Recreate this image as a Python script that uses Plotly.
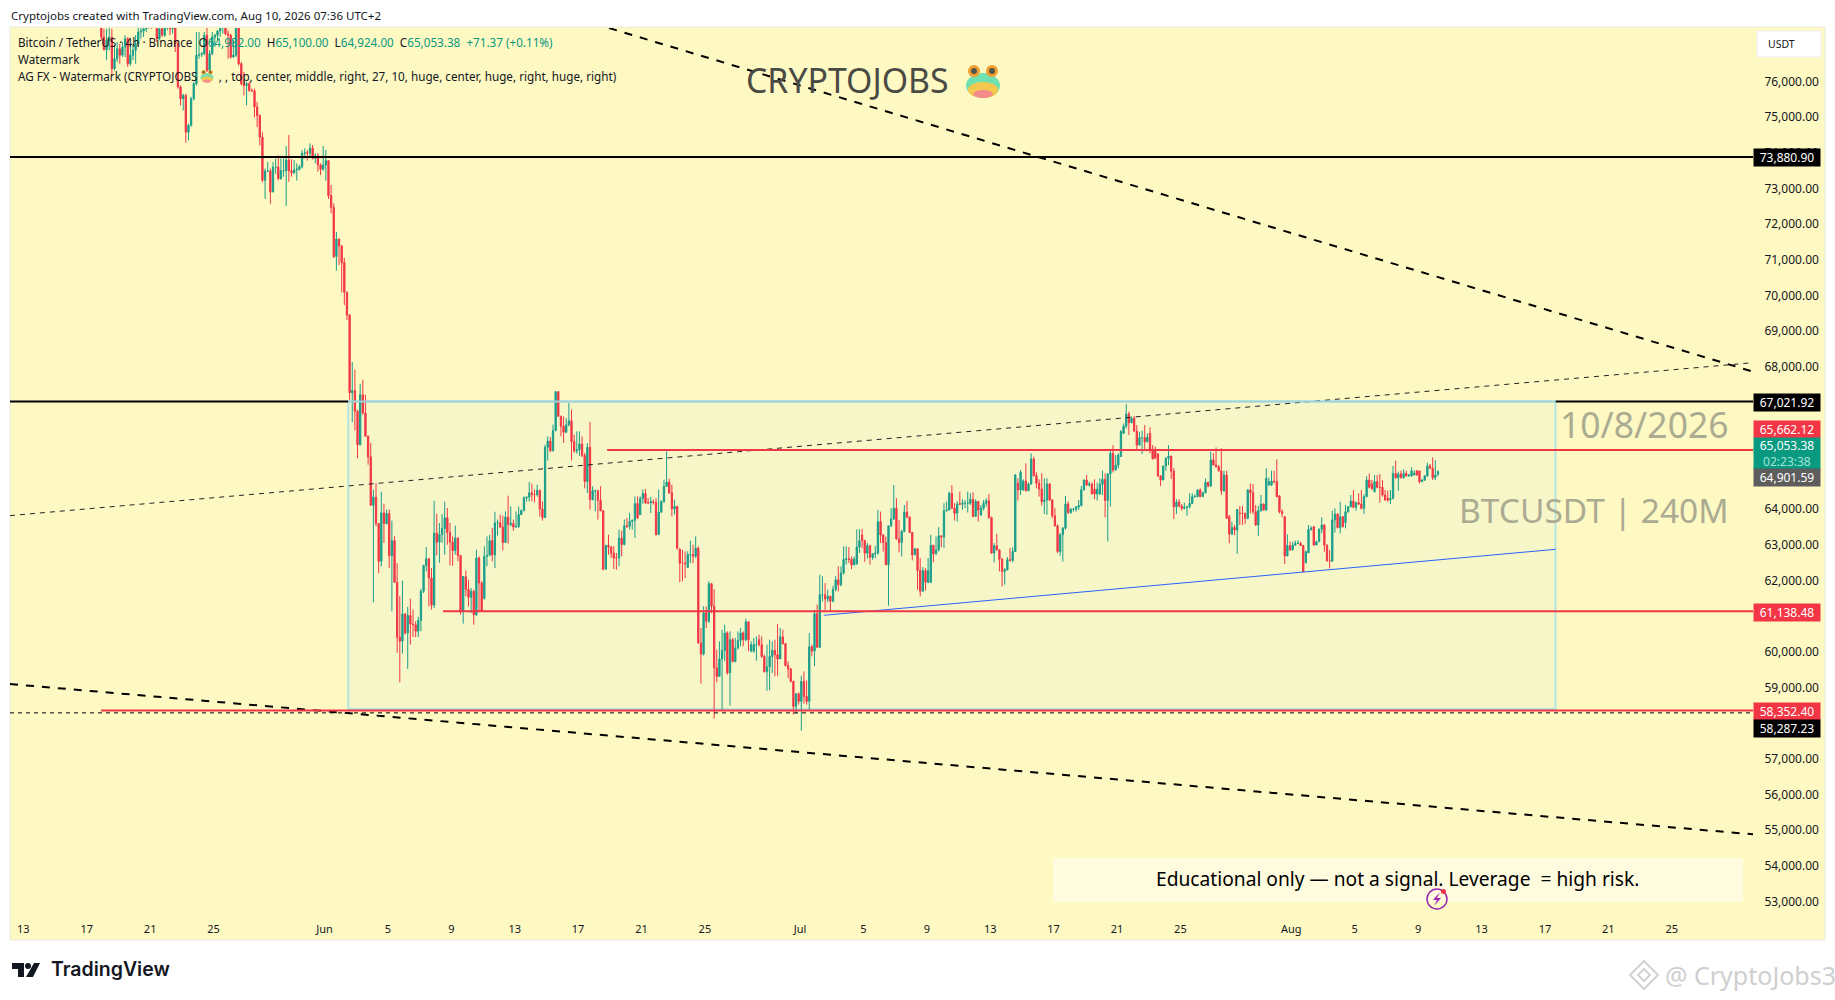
#!/usr/bin/env python3
"""BTCUSDT 4h chart with range box and trend lines, TradingView style."""

import pandas as pd
import plotly.graph_objects as go

# 4h candles, last bar is Aug 10 06:00
last_bar = "2026-08-10 06:00"

opens = [
    77530, 77250, 76890, 77160, 77250, 76360, 76640, 76920, 76740, 76970,
    77200, 76500, 76740, 76880, 77060, 77390, 77420, 77480, 77620, 77720,
    77580, 77760, 77200, 77480, 77300, 77620, 77720, 77480, 77580, 77060,
    75850, 75520, 75610, 74580, 74770, 75520, 75940, 76740, 76760, 76780,
    77300, 76310, 76780, 77250, 77300, 77420, 77530, 77580, 77340, 77300,
    76690, 76740, 77530, 76500, 75940, 75890, 75940, 75750, 75740, 75290,
    75050, 74440, 73230, 73490, 73490, 72900, 73600, 73600, 73280, 73500,
    73500, 73800, 73500, 73440, 73520, 73540, 73610, 73990, 74000, 73990,
    74130, 73850, 73910, 73660, 73540, 73660, 73780, 72800, 72470, 71090,
    71580, 71390, 70920, 70090, 69450, 67270, 67330, 66750, 65810, 67210,
    66700, 66050, 65470, 64110, 64340, 63600, 62540, 63900, 63600, 63880,
    62700, 63120, 61950, 60410, 60300, 61060, 60530, 61020, 60780, 60760,
    60580, 60880, 61700, 62420, 62610, 62070, 61310, 63330, 63080, 63290,
    63460, 63760, 63350, 63080, 62840, 63190, 62700, 61140, 62110, 61750,
    61530, 61700, 61040, 62630, 61930, 61500, 62680, 62710, 63120, 62720,
    63620, 63620, 63500, 63070, 63780, 63570, 63600, 63500, 63520, 63850,
    63970, 64320, 64340, 64460, 64410, 64410, 64530, 64010, 63770, 65740,
    65910, 65640, 66210, 67300, 66610, 66330, 66160, 66370, 66480, 65900,
    65640, 65670, 65830, 65510, 64780, 65740, 64270, 64520, 64520, 64250,
    63960, 62320, 62980, 62940, 62770, 62630, 62630, 63190, 63010, 63540,
    63520, 63660, 63690, 64160, 63850, 64300, 64440, 64180, 64180, 64210,
    64190, 63290, 63920, 64220, 64640, 64760, 64460, 64010, 64080, 62870,
    62490, 62490, 62370, 62730, 62730, 62680, 62910, 60250, 59940, 61090,
    60860, 61910, 61280, 59550, 59310, 59800, 60040, 60530, 59410, 60340,
    59730, 60110, 60320, 60530, 60340, 60840, 60020, 60020, 60200, 60340,
    60200, 59870, 59440, 59580, 59870, 60040, 59920, 59800, 60420, 60230,
    59610, 59520, 59170, 58470, 58820, 58610, 59170, 58750, 58610, 60140,
    60020, 61070, 60130, 61600, 61600, 61480, 61560, 61420, 61750, 62020,
    61880, 62210, 62590, 62610, 62600, 62440, 62470, 62940, 63280, 63120,
    62770, 62975, 62650, 62750, 62770, 63650, 63280, 63070, 62440, 63535,
    63730, 64030, 63170, 63070, 63380, 63920, 63780, 63350, 62720, 62890,
    62285, 61700, 62275, 61950, 61950, 62990, 62750, 62860, 63255, 63220,
    63960, 63980, 64450, 64030, 63890, 64150, 64140, 64170, 64170, 64170,
    64280, 63800, 64220, 63840, 64030, 64170, 64235, 63770, 62770, 62975,
    62860, 62600, 62255, 62300, 62585, 62565, 62815, 64730, 64540, 64540,
    64795, 64520, 64710, 65410, 64945, 64730, 64570, 64215, 64260, 64710,
    64260, 63815, 63535, 62815, 63285, 63470, 64150, 63910, 64000, 64000,
    64060, 64105, 64545, 64820, 64680, 64710, 64560, 64430, 64430, 64700,
    64840, 64245, 64990, 65570, 65100, 65240, 65480, 66130, 66335, 66670,
    66430, 66550, 66195, 65800, 66010, 66010, 65895, 66130, 65660, 65660,
    65550, 64930, 64820, 65215, 65430, 65495, 65070, 64070, 64200, 64090,
    64025, 64055, 64070, 64165, 64355, 64355, 64540, 64355, 64465, 64755,
    64650, 65380, 65240, 65195, 65080, 64520, 64960, 63790, 63305, 63490,
    63420, 63885, 63885, 63885, 63745, 64540, 64465, 63930, 63560, 63960,
    64145, 63980, 64680, 64680, 64790, 64775, 64375, 63930, 63790, 62690,
    62980, 62855, 62995, 63045, 63045, 62980, 62500, 62780, 63435, 63510,
    62995, 63090, 63435, 63560, 62995, 62555, 62545, 63700, 63865, 63485,
    63790, 63625, 63930, 64070, 64230, 64055, 64185, 64145, 64025, 64355,
    64820, 64710, 64490, 64775, 64615, 64615, 64400, 64305, 64260, 64305,
    65005, 64885, 64990, 64885, 65005, 64935, 64935, 64960, 65075, 65075,
    64775, 64820, 64935, 65215, 65150, 64885, 64982,
]
highs = [
    77720, 77480, 77480, 77530, 77480, 77020, 77110, 77060, 77110, 77300,
    77250, 77060, 77060, 77300, 77620, 77620, 77670, 77720, 77810, 77900,
    77900, 77900, 77620, 77530, 77720, 77810, 77810, 77620, 77620, 77160,
    75890, 75660, 75660, 74820, 75570, 75990, 77390, 77390, 76830, 77390,
    77530, 76880, 77390, 77340, 77440, 77620, 77670, 77620, 77440, 77340,
    77160, 77670, 77580, 76550, 76270, 75990, 75990, 75800, 75800, 75430,
    75080, 74580, 73560, 73740, 73560, 73740, 73840, 73930, 73845, 73845,
    74190, 74500, 73820, 73800, 73705, 73660, 74080, 74125, 74080, 74265,
    74220, 73985, 73985, 73705, 74190, 74080, 73800, 73100, 72580, 71780,
    71600, 71405, 71050, 70105, 69470, 68130, 67915, 66795, 67520, 67635,
    67215, 66065, 65860, 64550, 64735, 63615, 64490, 64155, 63990, 63990,
    63680, 63240, 62490, 61560, 61995, 61090, 61260, 61490, 61185, 60860,
    60980, 61770, 62445, 62940, 62635, 62350, 64240, 63875, 63615, 63865,
    64215, 64035, 63615, 63240, 63540, 63210, 62725, 62120, 62280, 62025,
    61790, 61745, 62865, 62680, 61980, 62960, 63240, 63280, 63475, 63930,
    63710, 63850, 63820, 63940, 64380, 64080, 63710, 63940, 64080, 63990,
    64360, 64360, 64765, 64720, 64550, 64690, 64550, 64220, 65810, 66045,
    66025, 66375, 67300, 67300, 66625, 66605, 66560, 66980, 66795, 66090,
    66185, 66185, 66045, 65580, 65860, 66450, 64645, 64550, 64550, 64645,
    63970, 63005, 63285, 62960, 62960, 62775, 63430, 63400, 63710, 63755,
    63895, 63710, 64360, 64360, 64360, 64550, 64570, 64315, 64345, 64270,
    64315, 64550, 64250, 64830, 65625, 64860, 64690, 64270, 64100, 62915,
    62865, 62820, 62820, 63120, 63005, 63240, 62960, 60670, 61275, 61275,
    61980, 61930, 61760, 60060, 60295, 60620, 60760, 60575, 60575, 60390,
    60390, 60575, 60670, 60575, 60930, 60860, 60295, 60390, 60435, 60480,
    60435, 59920, 60200, 60340, 60295, 60340, 60780, 60670, 60620, 60250,
    59735, 59550, 59190, 58845, 58865, 59330, 59450, 59200, 60530, 60200,
    61180, 61325, 62165, 62120, 61930, 61745, 61555, 61855, 62120, 62400,
    62400, 62960, 62960, 62940, 62675, 62675, 63440, 63440, 63450, 63145,
    63050, 63000, 62770, 62975, 63985, 63935, 63300, 63235, 63535, 64030,
    64680, 64310, 63705, 63425, 64120, 64235, 63795, 63365, 62910, 62910,
    62630, 62380, 62350, 62630, 63285, 63000, 63235, 63500, 63265, 64170,
    64220, 64495, 64680, 64170, 64220, 64495, 64280, 64260, 64495, 64450,
    64475, 64280, 64235, 64120, 64260, 64310, 64430, 63795, 63050, 63310,
    62880, 62630, 62350, 62660, 62910, 62940, 64990, 64870, 65100, 64840,
    65290, 64750, 65570, 65475, 65040, 64840, 65010, 64870, 64870, 64730,
    64280, 64030, 63580, 63330, 63500, 64375, 64220, 64030, 64030, 64095,
    64260, 64655, 64840, 64960, 64775, 64750, 64840, 64750, 64870, 65085,
    65010, 65010, 65635, 65800, 65520, 65570, 66220, 66410, 66950, 66740,
    66600, 66615, 66365, 66175, 66205, 66365, 66130, 66300, 65800, 65755,
    65570, 64960, 65215, 65455, 65800, 65495, 65150, 64280, 64280, 64145,
    64185, 64090, 64445, 64445, 64420, 64560, 64585, 64490, 64865, 64775,
    65615, 65570, 65735, 65240, 65710, 65080, 65080, 63840, 63650, 63560,
    63995, 64090, 64090, 63905, 64560, 64725, 64710, 64120, 64090, 64400,
    64165, 65150, 64895, 65080, 65080, 65400, 64400, 63995, 63810, 63295,
    63090, 63090, 63120, 63135, 63090, 63000, 62840, 63560, 63530, 63530,
    63120, 63465, 63775, 63575, 63015, 62855, 63960, 64025, 63885, 64210,
    63810, 64120, 64090, 64400, 64540, 64210, 64445, 64540, 64420, 64930,
    65005, 64820, 64960, 64960, 64990, 64820, 64540, 64520, 64540, 65215,
    65360, 65055, 65080, 65120, 65080, 64990, 65175, 65100, 65100, 64990,
    64840, 64960, 65305, 65270, 65455, 65380, 65100,
]
lows = [
    77160, 76880, 76600, 76880, 76170, 76310, 76550, 76500, 76690, 76690,
    76410, 76450, 76600, 76500, 76970, 77200, 77250, 77390, 77480, 77480,
    77530, 77110, 77160, 77250, 77250, 77440, 77300, 77340, 76830, 75800,
    75330, 75190, 74280, 74350, 74740, 75470, 75890, 76640, 76690, 76740,
    76270, 76270, 76740, 76970, 77160, 77250, 77340, 77300, 76640, 76640,
    76670, 76690, 76450, 75890, 75610, 75330, 75710, 75710, 75000, 74720,
    74210, 73180, 72710, 73460, 72570, 72900, 73410, 73230, 73240, 73330,
    72510, 73190, 73330, 73405, 73220, 73500, 73565, 73845, 73780, 73890,
    73815, 73705, 73470, 73375, 73500, 73220, 72705, 72300, 71050, 70695,
    70850, 70085, 69730, 69310, 67065, 66440, 66215, 65430, 65795, 66655,
    66045, 65250, 64100, 61390, 63520, 62205, 62400, 63055, 63570, 62350,
    61135, 61950, 59970, 59145, 59950, 60480, 59520, 60200, 60415, 60415,
    60415, 60575, 61650, 62260, 61275, 61185, 61230, 62705, 62495, 63055,
    62725, 63005, 62425, 62415, 62725, 62540, 61045, 60790, 61560, 61275,
    61090, 60760, 61000, 61135, 61135, 61465, 62400, 62680, 62540, 62350,
    63260, 63475, 62845, 63055, 63035, 63520, 63400, 63490, 63475, 63895,
    63940, 64220, 64220, 64220, 64195, 64360, 63800, 63680, 63755, 65365,
    65600, 65625, 66185, 66590, 66045, 65860, 66140, 66325, 65370, 65580,
    65560, 65500, 65465, 64585, 64455, 63990, 64250, 63940, 63710, 63940,
    62285, 62305, 62725, 62635, 62325, 62305, 62400, 62680, 62990, 63475,
    63430, 63430, 63195, 63725, 63875, 64155, 64155, 64145, 63895, 64130,
    63260, 63285, 63895, 64175, 64625, 64435, 63800, 63850, 62865, 61950,
    61980, 62070, 62350, 62490, 62490, 62630, 60230, 59110, 59895, 60670,
    60810, 61090, 58125, 59145, 59315, 58380, 59735, 59360, 58490, 59705,
    59705, 60060, 60155, 60155, 60295, 60015, 59985, 59970, 59750, 60155,
    59830, 59425, 58910, 58920, 59405, 59315, 59315, 59800, 60200, 59595,
    59265, 59145, 58240, 58255, 58520, 57790, 58545, 58520, 58380, 59875,
    59595, 60110, 60110, 61415, 61155, 61390, 61135, 61390, 61700, 61700,
    61840, 62165, 62445, 62490, 62320, 62425, 62445, 62770, 62910, 62525,
    62620, 62445, 62585, 62630, 62725, 63050, 62815, 62445, 61295, 63500,
    63700, 63145, 62790, 62675, 63350, 63750, 63330, 62565, 62725, 61745,
    61555, 61695, 61725, 61930, 61930, 62510, 62725, 62815, 62940, 62910,
    63935, 63965, 64010, 63685, 63655, 64120, 63985, 64030, 63910, 64120,
    63780, 63780, 63655, 63815, 63965, 64075, 63730, 62750, 62510, 62845,
    62255, 61835, 61885, 62285, 62535, 62510, 62800, 64245, 64400, 64525,
    64495, 64515, 64685, 64915, 64590, 64355, 64105, 63870, 63845, 64235,
    63750, 63515, 62770, 62695, 62535, 63425, 63870, 63870, 63935, 63935,
    63985, 64075, 64525, 64655, 64635, 64420, 64280, 64245, 64400, 64400,
    63770, 63095, 64075, 65035, 65085, 65150, 65475, 66110, 66270, 66085,
    66410, 66175, 65680, 65800, 65550, 65660, 65875, 65570, 65400, 65430,
    64915, 64650, 64820, 65080, 65240, 64850, 63725, 63865, 64055, 63960,
    63995, 63820, 64025, 64145, 64335, 64335, 64335, 64355, 64445, 64615,
    64635, 65240, 65165, 65055, 64400, 64490, 63725, 63045, 63275, 63275,
    62745, 63560, 63560, 63585, 63715, 63885, 63865, 63530, 63250, 63930,
    63960, 63960, 64660, 64650, 64725, 64335, 63885, 63775, 62465, 62690,
    62835, 62855, 62970, 63025, 62970, 62250, 62480, 62765, 63400, 62980,
    62995, 63090, 63325, 62810, 62530, 62340, 62530, 63345, 63465, 63325,
    63495, 63465, 63905, 64055, 64025, 63960, 64120, 63995, 63865, 64335,
    64585, 64540, 64475, 64585, 64185, 64355, 64240, 64210, 64145, 64280,
    64860, 64520, 64860, 64860, 64915, 64915, 64915, 64990, 64950, 64725,
    64765, 64800, 64915, 65130, 64820, 64820, 64924,
]
closes = [
    77250, 76890, 77160, 77250, 76360, 76640, 76920, 76740, 76970, 77200,
    76500, 76740, 76880, 77060, 77390, 77420, 77480, 77620, 77720, 77580,
    77760, 77200, 77480, 77300, 77620, 77720, 77480, 77580, 77060, 75850,
    75520, 75610, 74580, 74770, 75520, 75940, 76740, 76760, 76780, 77300,
    76310, 76780, 77250, 77300, 77420, 77530, 77580, 77340, 77300, 76690,
    76740, 77530, 76500, 75940, 75890, 75940, 75750, 75740, 75290, 75050,
    74440, 73230, 73490, 73490, 72900, 73600, 73600, 73280, 73500, 73500,
    73800, 73500, 73440, 73520, 73540, 73610, 73990, 74000, 73990, 74130,
    73850, 73910, 73660, 73540, 73660, 73780, 72800, 72470, 71090, 71580,
    71390, 70920, 70090, 69450, 67270, 67330, 66750, 65810, 67210, 66700,
    66050, 65470, 64110, 64340, 63600, 62540, 63900, 63600, 63880, 62700,
    63120, 61950, 60410, 60300, 61060, 60530, 61020, 60780, 60760, 60580,
    60880, 61700, 62420, 62610, 62070, 61310, 63330, 63080, 63290, 63460,
    63760, 63350, 63080, 62840, 63190, 62700, 61140, 62110, 61750, 61530,
    61700, 61040, 62630, 61930, 61140, 62680, 62710, 63120, 62720, 63620,
    63620, 63500, 63070, 63780, 63570, 63600, 63500, 63520, 63850, 63970,
    64320, 64340, 64460, 64410, 64410, 64530, 64010, 63770, 65740, 65910,
    65640, 66210, 67300, 66610, 66330, 66160, 66370, 66480, 65900, 65640,
    65670, 65830, 65510, 64780, 65740, 64270, 64520, 64520, 64250, 63960,
    62320, 62980, 62940, 62770, 62630, 62630, 63190, 63010, 63540, 63520,
    63660, 63690, 64160, 63760, 64300, 64440, 64180, 64180, 64210, 64190,
    63290, 63920, 64220, 64640, 64760, 64460, 64010, 64080, 62910, 62490,
    62490, 62470, 62730, 62730, 62680, 62910, 60250, 59940, 61090, 60860,
    61910, 61280, 59550, 59310, 59800, 60040, 60530, 59410, 60340, 59730,
    60110, 60320, 60530, 60340, 60840, 60340, 60200, 60200, 60200, 60200,
    59870, 59440, 59580, 59870, 60040, 59920, 59800, 60420, 60230, 59610,
    59520, 59170, 58470, 58820, 58610, 59170, 58750, 58610, 60140, 60020,
    61070, 60130, 61600, 61600, 61480, 61560, 61420, 61750, 62020, 61880,
    62210, 62590, 62610, 62600, 62440, 62600, 62940, 63115, 63120, 62770,
    62975, 62650, 62750, 62770, 63650, 63280, 63070, 62440, 63535, 63730,
    64030, 63170, 63070, 63380, 63920, 63780, 63350, 62720, 62890, 62285,
    61700, 62275, 61950, 62285, 62990, 62750, 62860, 63255, 63220, 63960,
    63980, 64450, 64030, 63890, 64150, 64140, 64170, 64170, 64170, 64280,
    63800, 64220, 63980, 64030, 64170, 64235, 63770, 62770, 62975, 62860,
    62600, 62255, 62300, 62585, 62565, 62815, 64960, 64540, 65040, 64795,
    64520, 64710, 65410, 64945, 64730, 64570, 64215, 64260, 64710, 64260,
    63815, 63535, 62815, 63285, 63470, 64150, 63910, 64000, 64000, 64060,
    64105, 64545, 64820, 64680, 64710, 64430, 64430, 64560, 64700, 64840,
    64245, 64990, 65570, 65100, 65240, 65520, 66180, 66335, 66670, 66430,
    66550, 66195, 65800, 66010, 66010, 65895, 66020, 65660, 65410, 65430,
    64930, 64820, 65215, 65430, 65495, 65070, 64070, 64200, 64090, 64025,
    64055, 64070, 64165, 64355, 64355, 64540, 64355, 64465, 64755, 64650,
    65380, 65240, 65195, 65080, 64520, 64960, 63745, 63305, 63490, 63420,
    63995, 63885, 63885, 63745, 64540, 64465, 63930, 63560, 63960, 64145,
    63980, 64865, 64775, 64790, 64775, 64355, 63930, 63885, 62690, 62980,
    62855, 62995, 63045, 63045, 62980, 62250, 62810, 63435, 63465, 62995,
    63090, 63435, 63560, 62995, 62555, 62555, 63700, 63865, 63485, 63790,
    63510, 63930, 64070, 64230, 64055, 64185, 64145, 64025, 64355, 64820,
    64615, 64585, 64775, 64615, 64615, 64400, 64260, 64260, 64305, 65005,
    64885, 64990, 64885, 65005, 64935, 64960, 65075, 65005, 64960, 64775,
    64820, 64935, 65215, 65150, 64885, 64960, 65053.38,
]

# drawings
level_top = 73880.90
level_box_top = 67021.92
level_resistance = 65662.12
level_mid = 61138.48
level_support = 58352.40
level_dotted = 58287.23

date_left = "2026-05-12 03:45"
date_right = "2026-08-30 03:04"
box_start = "2026-06-02 12:00"
box_end = "2026-08-17 16:00"
box_bottom = 58396

upper_x = ["2026-06-18 23:00", date_right]
upper_y = [77500, 67860]
lower_x = [date_left, date_right]
lower_y = [59097, 54880]
thin_x = [date_left, date_right]
thin_y = [63822, 68112]
blue_x = ["2026-07-02 12:00", box_end]
blue_y = [61025, 62876]

# labels under the coloured price tags are left out, the tags hide them
price_ticks = [
    53000, 54000, 55000, 56000, 57000, 59000, 60000, 62000, 63000, 64000,
    68000, 69000, 70000, 71000, 72000, 73000, 74000, 75000, 76000,
]
date_ticks = [
    "2026-05-13", "2026-05-17", "2026-05-21", "2026-05-25", "2026-06-01", "2026-06-05",
    "2026-06-09", "2026-06-13", "2026-06-17", "2026-06-21", "2026-06-25", "2026-07-01",
    "2026-07-05", "2026-07-09", "2026-07-13", "2026-07-17", "2026-07-21", "2026-07-25",
    "2026-08-01", "2026-08-05", "2026-08-09", "2026-08-13", "2026-08-17", "2026-08-21",
    "2026-08-25",
]
date_labels = [
    "13", "17", "21", "25", "Jun", "5", "9", "13", "17", "21", "25", "Jul",
    "5", "9", "13", "17", "21", "25", "Aug", "5", "9", "13", "17", "21", "25",
]

UP = "#1A9E8A"
DOWN = "#F23645"
PANE = "#FEF8C3"
INK = "#131722"
FONT = "Noto Sans"

PLOT_L, PLOT_R, PLOT_T, PLOT_B = 10, 1753, 28, 916


def px_x(x):
    return (x - PLOT_L) / (PLOT_R - PLOT_L)


def px_y(y):
    return (PLOT_B - y) / (PLOT_B - PLOT_T)


def paper_rect(x0, y0, x1, y1, fill, line=None, width=0, layer="above", kind="rect"):
    return dict(type=kind, xref="paper", yref="paper", x0=px_x(x0), x1=px_x(x1),
                y0=px_y(y0), y1=px_y(y1), fillcolor=fill, layer=layer,
                line=dict(color=line or fill, width=width))


def paper_path(points, fill, line=None, width=0):
    path = "M" + " L".join(f"{px_x(x):.5f},{px_y(y):.5f}" for x, y in points) + " Z"
    return dict(type="path", xref="paper", yref="paper", path=path, fillcolor=fill,
                line=dict(color=line or fill, width=width), layer="above")


def text(label, x, y, size, color=INK, anchor="left", font=FONT, weight=None):
    return dict(text=label, xref="paper", yref="paper", x=px_x(x), y=px_y(y), showarrow=False,
                xanchor=anchor, yanchor="middle", align=anchor,
                font=dict(family=font, size=size, color=color, weight=weight))


def price_tag(label, y0, y1, bg):
    return dict(text=label, xref="paper", yref="paper", x=px_x(1787), y=px_y((y0 + y1) / 2),
                showarrow=False, xanchor="center", yanchor="middle", bgcolor=bg, width=66,
                height=y1 - y0, borderpad=0, align="center",
                font=dict(family=FONT, size=12, color="white"))


def frog(cx, cy, s):
    # emoji drawn by hand, no emoji font on the box
    return [
        paper_rect(cx - 17 * s, cy - 8 * s, cx + 17 * s, cy + 17 * s, "#6FE0B0", kind="circle"),
        paper_rect(cx - 15 * s, cy + 1 * s, cx + 15 * s, cy + 17 * s, "#F4C84F", kind="circle"),
        paper_rect(cx - 10 * s, cy + 9 * s, cx + 10 * s, cy + 17 * s, "#F58A8A", kind="circle"),
        paper_rect(cx - 15 * s, cy - 16 * s, cx - 3 * s, cy - 4 * s, "#F0A030", kind="circle"),
        paper_rect(cx + 3 * s, cy - 16 * s, cx + 15 * s, cy - 4 * s, "#F0A030", kind="circle"),
        paper_rect(cx - 12 * s, cy - 13 * s, cx - 6 * s, cy - 7 * s, "#55554E", kind="circle"),
        paper_rect(cx + 6 * s, cy - 13 * s, cx + 12 * s, cy - 7 * s, "#55554E", kind="circle"),
    ]


fig = go.Figure()

fig.add_trace(go.Candlestick(
    x=pd.date_range(end=last_bar, periods=len(closes), freq="4h"),
    open=opens, high=highs, low=lows, close=closes,
    increasing=dict(line=dict(color=UP, width=1), fillcolor=UP),
    decreasing=dict(line=dict(color=DOWN, width=1), fillcolor=DOWN),
))


def add_line(x, y, color, width, dash="solid"):
    fig.add_trace(go.Scatter(x=x, y=y, mode="lines", hoverinfo="skip",
                             line=dict(color=color, width=width, dash=dash)))


add_line(upper_x, upper_y, "#000000", 2, "8px,8px")
add_line(lower_x, lower_y, "#000000", 2, "8px,8px")
add_line(thin_x, thin_y, "#222222", 1, "5px,5px")
add_line(blue_x, blue_y, "#2962FF", 1)
add_line([date_left, date_right], [level_top, level_top], "#000000", 2)
add_line([date_left, box_start], [level_box_top, level_box_top], "#000000", 2)
add_line([box_end, date_right], [level_box_top, level_box_top], "#000000", 2)
add_line(["2026-06-18 20:00", date_right], [level_resistance, level_resistance], DOWN, 2)
add_line(["2026-06-08 11:30", date_right], [level_mid, level_mid], DOWN, 2)
add_line(["2026-05-17 21:30", date_right], [level_support, level_support], DOWN, 2)
add_line([date_left, date_right], [level_dotted, level_dotted], "#000000", 1, "4px,4px")

shapes = [
    # pane background runs under the price scale too
    paper_rect(10, 27, 1825, 940, PANE, line="#E9E9E0", width=1, layer="below"),
    dict(type="rect", xref="x", yref="y", x0=box_start, x1=box_end, y0=box_bottom, y1=level_box_top,
         fillcolor="#F6F6C9", layer="below", line=dict(color="#B5E5E0", width=2)),
    dict(type="line", xref="x", yref="y", x0=box_start, x1=box_end, y0=level_box_top, y1=level_box_top,
         layer="above", line=dict(color="#9CD3DD", width=2)),
    # note strip and USDT button
    paper_rect(1053, 858, 1743, 902, "#FFFBDF"),
    paper_rect(1757, 31, 1821, 57, "#FFFFFF", line="#EEEEEE", width=1),
    # lightning badge
    paper_rect(1427, 889, 1447, 909, "rgba(0,0,0,0)", line="#9C27B0", width=1.5, kind="circle"),
    paper_path([(1440, 892), (1433, 900), (1437, 900), (1434, 906), (1441, 898), (1437, 898)], "#9C27B0"),
    paper_rect(1441, 889, 1446, 894, DOWN, kind="circle"),
    # TradingView logo
    paper_path([(12, 963), (24, 963), (24, 977), (18, 977), (18, 969), (12, 969)], "#131722"),
    paper_rect(25, 963, 31, 969, "#131722", kind="circle"),
    paper_path([(34, 963), (40, 963), (33, 977), (26, 977)], "#131722"),
    # binance-like diamond of the watermark
    paper_path([(1644, 961), (1658, 975), (1644, 989), (1630, 975)], "rgba(0,0,0,0)", line="#D2D2D2", width=2),
    paper_path([(1644, 969), (1650, 975), (1644, 981), (1638, 975)], "rgba(0,0,0,0)", line="#D2D2D2", width=2),
]
shapes += frog(983, 81, 1.0)
shapes += frog(207, 76, 0.38)

GAP = "\u00a0\u00a0"
legend_row = (
    f"Bitcoin / TetherUS · 4h · Binance{GAP}O<span style='color:#089981'>64,982.00</span>"
    f"{GAP}H<span style='color:#089981'>65,100.00</span>{GAP}L<span style='color:#089981'>64,924.00</span>"
    f"{GAP}C<span style='color:#089981'>65,053.38</span>{GAP}<span style='color:#089981'>+71.37 (+0.11%)</span>"
)

annotations = [
    text("Cryptojobs created with TradingView.com, Aug 10, 2026 07:36 UTC+2", 9, 15, 11.5),
    text(legend_row, 16, 42, 11.7),
    text("Watermark", 16, 59, 11.7),
    text("AG FX - Watermark (CRYPTOJOBS\u00a0\u00a0\u00a0\u00a0\u00a0\u00a0\u00a0, , top, center, middle, right, 27, 10, huge, center, huge, right, huge, right)",
         16, 76, 11.7),
    text("CRYPTOJOBS", 744, 80, 33.8, color="#4A4A44"),
    text("10/8/2026", 1731, 424, 35.5, color="#ABAB92", anchor="right"),
    text("BTCUSDT | 240M", 1731, 510, 33.5, color="#ABAB92", anchor="right"),
    text("Educational only — not a signal. Leverage \u00a0= high risk.", 1397, 878, 19.2, color="#000000", anchor="center"),
    text("USDT", 1766, 44.5, 10.5),
    text("TradingView", 49, 969, 19.5, font="Inter", weight=600),
    text("@ CryptoJobs3", 1663, 975, 25, color="#CFCFCF"),
    price_tag("73,880.90", 149, 166, "#000000"),
    price_tag("67,021.92", 394, 411, "#000000"),
    price_tag("65,662.12", 421, 438, DOWN),
    price_tag("65,053.38<br><span style='color:#A6E3D6'>02:23:38</span>", 438, 469, "#089981"),
    price_tag("64,901.59", 469, 486, "#5D5D5D"),
    price_tag("61,138.48", 604, 621, DOWN),
    price_tag("58,352.40", 703, 720, DOWN),
    price_tag("58,287.23", 720, 737, "#000000"),
]

fig.update_layout(
    width=1835, height=1000, autosize=False, showlegend=False,
    margin=dict(l=PLOT_L, r=1835 - PLOT_R, t=PLOT_T, b=1000 - PLOT_B),
    paper_bgcolor="#FFFFFF", plot_bgcolor="rgba(0,0,0,0)",
    shapes=shapes, annotations=annotations,
    xaxis=dict(range=[date_left, date_right], rangeslider=dict(visible=False), showgrid=False,
               zeroline=False, showline=False, tickmode="array", tickvals=date_ticks, ticktext=date_labels,
               ticks="outside", ticklen=3, tickcolor="rgba(0,0,0,0)",
               tickfont=dict(family=FONT, size=11, color=INK), tickangle=0),
    yaxis=dict(range=[52588, 77503], side="right", showgrid=False, zeroline=False, showline=False,
               tickmode="array", tickvals=price_ticks, ticktext=[f"{p:,.2f}" for p in price_ticks],
               ticks="outside", ticklen=8, tickcolor="rgba(0,0,0,0)",
               tickfont=dict(family=FONT, size=12, color=INK)),
)

fig.write_html("out.html", config={"displayModeBar": False}, post_script="document.body.style.margin='0';")
